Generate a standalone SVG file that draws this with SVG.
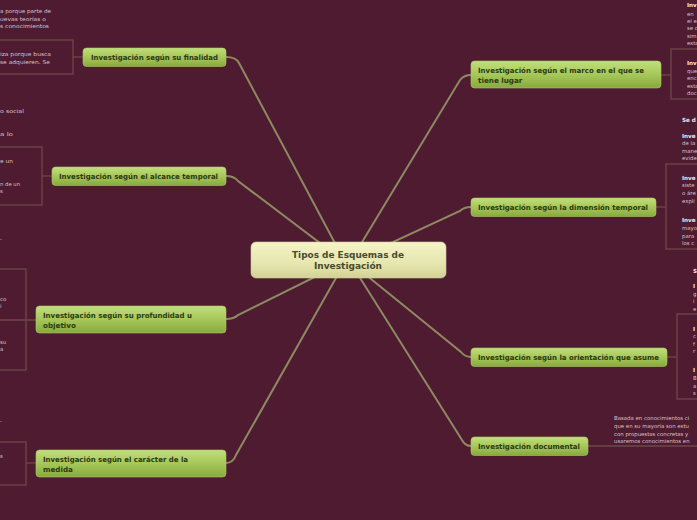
<svg xmlns="http://www.w3.org/2000/svg" width="697" height="520" viewBox="0 0 697 520">
<defs>
<linearGradient id="gNode" x1="0" y1="0" x2="0" y2="1">
<stop offset="0" stop-color="#c2df7a"/>
<stop offset="0.5" stop-color="#a6c75a"/>
<stop offset="1" stop-color="#88a93c"/>
</linearGradient>
<linearGradient id="gRoot" x1="0" y1="0" x2="0" y2="1">
<stop offset="0" stop-color="#f4f4c6"/>
<stop offset="0.6" stop-color="#e6e6b0"/>
<stop offset="1" stop-color="#d2d296"/>
</linearGradient>
<style>
.bg{fill:#4e1b31}
.conn{fill:none;stroke:#8d8a62;stroke-width:2;stroke-linecap:round}
.sub{fill:none;stroke:#6e4848;stroke-width:1.3}
.node rect{fill:url(#gNode);stroke:#a9c96a;stroke-width:0.6}
.node text{font-family:"DejaVu Sans",sans-serif;font-weight:bold;font-size:7.2px;fill:#2c3a10}
.root rect{fill:url(#gRoot);stroke:#cfcf9a;stroke-width:0.6}
.root text{font-family:"DejaVu Sans",sans-serif;font-weight:bold;font-size:9.2px;fill:#4a4a2c;text-anchor:middle}
.t{font-family:"DejaVu Sans",sans-serif;font-size:5.4px;fill:#d8c2c9}
.b{font-family:"DejaVu Sans",sans-serif;font-size:5.6px;font-weight:bold;fill:#f2e8ea}
</style>
</defs>
<rect class="bg" x="0" y="0" width="697" height="520"/>

<g id="connectors">
<path class="conn" d="M345 262 L239 63 Q236 57 226 57"/>
<path class="conn" d="M345 262 L238 181 Q234 176 226 176"/>
<path class="conn" d="M345 262 L238 315 Q234 319 226 319"/>
<path class="conn" d="M345 262 L236 455 Q233 463 226 463"/>
<path class="conn" d="M350 262 L460 80 Q464 75 471 75"/>
<path class="conn" d="M350 262 L460 211 Q464 207 471 207"/>
<path class="conn" d="M350 262 L461 352 Q465 357 471 357"/>
<path class="conn" d="M350 262 L462 440 Q465 446 471 446"/>
<path class="sub" d="M83 57 H73"/>
<path class="sub" d="M52 176 H42"/>
<path class="sub" d="M36 320 H0"/>
<path class="sub" d="M36 463 H26"/>
<path class="sub" d="M661 75 H671"/>
<path class="sub" d="M656 207 H666"/>
<path class="sub" d="M667 357 H677"/>
<path class="sub" d="M588 446 H700"/>
</g>

<g id="root" class="root">
<rect x="251" y="242" width="195" height="36" rx="5"/>
<text x="348" y="258" textLength="112" lengthAdjust="spacingAndGlyphs">Tipos de Esquemas de</text>
<text x="348" y="269" textLength="68" lengthAdjust="spacingAndGlyphs">Investigación</text>
</g>

<g id="n-finalidad" class="node">
<rect x="83" y="48" width="143" height="18.5" rx="3.5"/>
<text x="91" y="60" textLength="127" lengthAdjust="spacingAndGlyphs">Investigación según su finalidad</text>
</g>
<g id="n-alcance" class="node">
<rect x="52" y="167" width="174" height="18.5" rx="3.5"/>
<text x="59" y="179" textLength="159" lengthAdjust="spacingAndGlyphs">Investigación según el alcance temporal</text>
</g>
<g id="n-profundidad" class="node">
<rect x="36" y="306" width="190" height="27" rx="3.5"/>
<text x="43" y="318" textLength="149" lengthAdjust="spacingAndGlyphs">Investigación según su profundidad u</text>
<text x="43" y="327.5">objetivo</text>
</g>
<g id="n-medida" class="node">
<rect x="36" y="450" width="190" height="27" rx="3.5"/>
<text x="43" y="462" textLength="145" lengthAdjust="spacingAndGlyphs">Investigación según el carácter de la</text>
<text x="43" y="471.5">medida</text>
</g>
<g id="n-marco" class="node">
<rect x="471" y="61" width="190" height="27" rx="3.5"/>
<text x="478" y="73" textLength="166" lengthAdjust="spacingAndGlyphs">Investigación según el marco en el que se</text>
<text x="478" y="82.5">tiene lugar</text>
</g>
<g id="n-dimension" class="node">
<rect x="471" y="198" width="185" height="18.5" rx="3.5"/>
<text x="478" y="210" textLength="170" lengthAdjust="spacingAndGlyphs">Investigación según la dimensión temporal</text>
</g>
<g id="n-orientacion" class="node">
<rect x="471" y="348" width="196" height="18.5" rx="3.5"/>
<text x="478" y="360" textLength="181" lengthAdjust="spacingAndGlyphs">Investigación según la orientación que asume</text>
</g>
<g id="n-documental" class="node">
<rect x="471" y="437" width="117" height="18.5" rx="3.5"/>
<text x="478" y="449" textLength="102" lengthAdjust="spacingAndGlyphs">Investigación documental</text>
</g>

<g id="c-finalidad">
<text class="t" x="0" y="13" textLength="51" lengthAdjust="spacingAndGlyphs">a porque parte de</text>
<text class="t" x="0" y="20.5" textLength="46" lengthAdjust="spacingAndGlyphs">uevas teorías o</text>
<text class="t" x="0" y="28" textLength="49" lengthAdjust="spacingAndGlyphs">s conocimientos</text>
<rect class="sub" x="-10" y="40" width="83" height="34"/>
<text class="t" x="0" y="56" textLength="51" lengthAdjust="spacingAndGlyphs">iza porque busca</text>
<text class="t" x="0" y="64" textLength="50" lengthAdjust="spacingAndGlyphs">se adquieren. Se</text>
</g>
<g id="c-alcance">
<text class="t" x="0" y="113" textLength="24" lengthAdjust="spacingAndGlyphs">o social</text>
<text class="t" x="0" y="135.5" textLength="13" lengthAdjust="spacingAndGlyphs">a lo</text>
<rect class="sub" x="-10" y="147" width="52" height="58"/>
<text class="t" x="0" y="163" textLength="13" lengthAdjust="spacingAndGlyphs">e un</text>
<text class="t" x="0" y="186" textLength="20" lengthAdjust="spacingAndGlyphs">n de un</text>
<text class="t" x="0" y="193">s</text>
</g>
<g id="c-profundidad">
<text class="t" x="0" y="241">-</text>
<rect class="sub" x="-10" y="269" width="36" height="101"/>
<text class="t" x="0" y="301">co</text>
<text class="t" x="0" y="308">i</text>
<text class="t" x="0" y="344">su</text>
<text class="t" x="0" y="351">a</text>
</g>
<g id="c-medida">
<text class="t" x="0" y="423">-</text>
<rect class="sub" x="-10" y="442" width="36" height="43"/>
<text class="t" x="0" y="458">s</text>
</g>
<g id="c-marco">
<text class="b" x="687" y="7">Inv</text>
<text class="t" x="687" y="15.5">en</text>
<text class="t" x="687" y="22.5">el e</text>
<text class="t" x="687" y="30">se c</text>
<text class="t" x="687" y="37.5">sim</text>
<text class="t" x="687" y="45">esta</text>
<rect class="sub" x="671" y="49" width="40" height="50"/>
<text class="b" x="687" y="65">Inv</text>
<text class="t" x="687" y="73">que</text>
<text class="t" x="687" y="80">enc</text>
<text class="t" x="687" y="87.5">esta</text>
<text class="t" x="687" y="95">doc</text>
</g>
<g id="c-dimension">
<text class="b" x="682" y="122">Se d</text>
<text class="b" x="682" y="138">Inve</text>
<text class="t" x="682" y="145">de la</text>
<text class="t" x="682" y="152.5">mane</text>
<text class="t" x="682" y="160">evide</text>
<rect class="sub" x="666" y="164" width="45" height="85"/>
<text class="b" x="682" y="180">Inve</text>
<text class="t" x="682" y="187">siste</text>
<text class="t" x="682" y="195">o áre</text>
<text class="t" x="682" y="202.5">expli</text>
<text class="b" x="682" y="222">Inve</text>
<text class="t" x="682" y="230">mayo</text>
<text class="t" x="682" y="238">para</text>
<text class="t" x="682" y="245">los c</text>
</g>
<g id="c-orientacion">
<text class="b" x="693" y="273">S</text>
<text class="b" x="693" y="288">I</text>
<text class="t" x="693" y="296">g</text>
<text class="t" x="693" y="303">i</text>
<text class="t" x="693" y="311">e</text>
<rect class="sub" x="677" y="314" width="40" height="85"/>
<text class="b" x="693" y="331">I</text>
<text class="t" x="693" y="338">c</text>
<text class="t" x="693" y="345.5">f</text>
<text class="t" x="693" y="353">r</text>
<text class="b" x="693" y="372">I</text>
<text class="t" x="693" y="380">B</text>
<text class="t" x="693" y="388">a</text>
<text class="t" x="693" y="395">s</text>
</g>
<g id="c-documental">
<text class="t" x="614" y="419.5">Basada en conocimientos ci</text>
<text class="t" x="614" y="427.5">que en su mayoría son estu</text>
<text class="t" x="614" y="435.5">con propuestas concretas y</text>
<text class="t" x="614" y="442.5">usaremos conocimientos en</text>
</g>
</svg>
